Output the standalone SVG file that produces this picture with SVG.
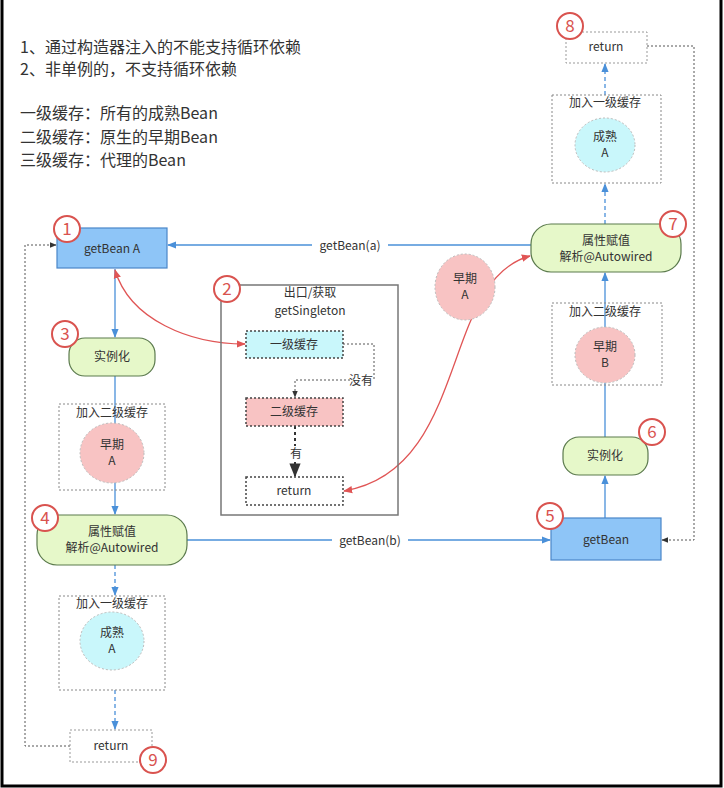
<svg xmlns="http://www.w3.org/2000/svg" width="724" height="788" viewBox="0 0 724 788">
<defs>
<style>
text{font-family:"Noto Sans CJK SC","Liberation Sans",sans-serif;fill:#333;}
.t{font-size:12px;text-anchor:middle;}
.n{font-size:17px;text-anchor:middle;fill:#d9534f;}
.num{fill:#fff;stroke:#d9534f;stroke-width:2;}
.blue{fill:#8ec5f7;stroke:#4a86c8;stroke-width:1.2;}
.green{fill:#e6f8c9;stroke:#5b7a4d;stroke-width:1.2;}
.box{fill:none;stroke:#888;stroke-width:1;stroke-dasharray:2,2;}
.bl{stroke:#4a90d9;stroke-width:1.3;fill:none;}
.rd{stroke:#e05555;stroke-width:1.3;fill:none;}
.dk{stroke:#555;stroke-width:1;fill:none;stroke-dasharray:2,2;}
</style>
<marker id="ab" viewBox="0 0 10 10" refX="9" refY="5" markerWidth="7" markerHeight="7" orient="auto-start-reverse"><path d="M0,1L10,5L0,9z" fill="#4a90d9"/></marker>
<marker id="ar" viewBox="0 0 10 10" refX="9" refY="5" markerWidth="7" markerHeight="7" orient="auto-start-reverse"><path d="M0,1L10,5L0,9z" fill="#e05555"/></marker>
<marker id="ak" viewBox="0 0 10 10" refX="9" refY="5" markerWidth="7" markerHeight="7" orient="auto"><path d="M0,1L10,5L0,9z" fill="#333"/></marker>
</defs>
<rect width="724" height="788" fill="#fff"/>
<path d="M2,0V786H721V0" fill="none" stroke="#000" stroke-width="3"/>
<g id="notes" font-size="16">
<text x="20" y="53">1、通过构造器注入的不能支持循环依赖</text>
<text x="20" y="75">2、非单例的，不支持循环依赖</text>
<text x="20" y="119">一级缓存：所有的成熟Bean</text>
<text x="20" y="143">二级缓存：原生的早期Bean</text>
<text x="20" y="166">三级缓存：代理的Bean</text>
</g>
<g id="connectors">
<path class="bl" d="M531,245H168" marker-end="url(#ab)"/>
<rect x="312" y="238" width="76" height="14" fill="#fff"/>
<text x="350" y="250" class="t">getBean(a)</text>
<path class="bl" d="M187,540H550" marker-end="url(#ab)"/>
<rect x="332" y="533" width="76" height="14" fill="#fff"/>
<text x="370" y="545" class="t">getBean(b)</text>
<path class="bl" d="M115,269V337" marker-end="url(#ab)"/>
<path class="bl" d="M115,376V514" marker-end="url(#ab)"/>
<path class="bl" d="M115,565V595" stroke-dasharray="4,3" marker-end="url(#ab)"/>
<path class="bl" d="M115,690V729" stroke-dasharray="4,3" marker-end="url(#ab)"/>
<path class="bl" d="M605,518V476" marker-end="url(#ab)"/>
<path class="bl" d="M605,437V273" marker-end="url(#ab)"/>
<path class="bl" d="M605,224V184" stroke-dasharray="4,3" marker-end="url(#ab)"/>
<path class="bl" d="M605,95V64" stroke-dasharray="4,3" marker-end="url(#ab)"/>
<path class="dk" d="M70,746H25V245H56" marker-end="url(#ak)"/>
<path class="dk" d="M647,46H694V540H662" marker-end="url(#ak)"/>
<path class="rd" d="M115,270C130,320 190,344 245,344" marker-start="url(#ar)" marker-end="url(#ar)"/>
<path class="rd" d="M344,491C470,470 440,280 530,256" marker-start="url(#ar)" marker-end="url(#ar)"/>
<path class="dk" d="M343,344H374V380"/>
<path class="dk" d="M350,380H295V397" marker-end="url(#ak)"/>
<text x="361" y="385" class="t">没有</text>
<path d="M295,426V476" stroke="#333" stroke-width="2" stroke-dasharray="3,3" marker-end="url(#ak)"/>
<rect x="287" y="446" width="18" height="15" fill="#fff"/>
<text x="296" y="458" class="t">有</text>
</g>
<g id="getSingleton">
<rect x="221" y="285" width="177" height="230" fill="none" stroke="#777" stroke-width="1.5"/>
<text x="310" y="297" class="t" font-size="11">出口/获取</text>
<text x="310" y="315" class="t" font-size="11">getSingleton</text>
<rect x="246" y="331" width="97" height="27" fill="#c9f7fb" stroke="#444" stroke-width="1.5" stroke-dasharray="2,2"/>
<text x="294" y="349" class="t">一级缓存</text>
<rect x="246" y="398" width="97" height="28" fill="#f8c3c3" stroke="#444" stroke-width="1.5" stroke-dasharray="2,2"/>
<text x="294" y="416" class="t">二级缓存</text>
<rect x="246" y="477" width="97" height="28" fill="#fff" stroke="#444" stroke-width="1.5" stroke-dasharray="2,2"/>
<text x="294" y="495" class="t">return</text>
<circle cx="227" cy="289" r="13" class="num"/><text x="227" y="295" class="n">2</text>
</g>
<g id="n1"><rect x="57" y="228" width="110" height="40" class="blue"/><text x="112" y="253" class="t">getBean A</text>
<circle cx="67" cy="229" r="13" class="num"/><text x="67" y="235" class="n">1</text></g>
<g id="n3"><rect x="69" y="338" width="86" height="38" rx="16" class="green"/><text x="112" y="361" class="t">实例化</text>
<circle cx="65" cy="334" r="13" class="num"/><text x="65" y="340" class="n">3</text></g>
<g id="l2cacheA"><rect x="59" y="404" width="106" height="86" class="box"/><text x="112" y="417" class="t">加入二级缓存</text>
<ellipse cx="112" cy="453" rx="32" ry="30" fill="#f8c3c3" stroke="#bbb" stroke-dasharray="2,2"/><text x="112" y="449" class="t">早期</text><text x="112" y="465" class="t">A</text></g>
<g id="n4"><rect x="37" y="515" width="150" height="50" rx="20" class="green"/><text x="112" y="536" class="t">属性赋值</text><text x="112" y="552" class="t">解析@Autowired</text>
<circle cx="45" cy="518" r="13" class="num"/><text x="45" y="524" class="n">4</text></g>
<g id="l1cacheA"><rect x="59" y="596" width="106" height="94" class="box"/><text x="112" y="608" class="t">加入一级缓存</text>
<ellipse cx="112" cy="641" rx="32" ry="29" fill="#c9f7fb" stroke="#bbb" stroke-dasharray="2,2"/><text x="112" y="637" class="t">成熟</text><text x="112" y="653" class="t">A</text></g>
<g id="n9"><rect x="70" y="730" width="82" height="32" fill="#fff" stroke="#999" stroke-dasharray="2,2"/><text x="111" y="750" class="t">return</text>
<circle cx="153" cy="760" r="13" class="num"/><text x="153" y="766" class="n">9</text></g>
<g id="earlyA"><ellipse cx="465" cy="287" rx="30" ry="33" fill="#f8c3c3" stroke="#bbb" stroke-dasharray="2,2"/><text x="465" y="283" class="t">早期</text><text x="465" y="299" class="t">A</text></g>
<g id="n5"><rect x="551" y="518" width="110" height="42" class="blue"/><text x="606" y="544" class="t">getBean</text>
<circle cx="550" cy="516" r="13" class="num"/><text x="550" y="522" class="n">5</text></g>
<g id="n6"><rect x="563" y="437" width="85" height="38" rx="16" class="green"/><text x="605" y="460" class="t">实例化</text>
<circle cx="652" cy="432" r="13" class="num"/><text x="652" y="438" class="n">6</text></g>
<g id="l2cacheB"><rect x="552" y="303" width="110" height="82" class="box"/><text x="605" y="316" class="t">加入二级缓存</text>
<ellipse cx="605" cy="355" rx="30" ry="28" fill="#f8c3c3" stroke="#bbb" stroke-dasharray="2,2"/><text x="605" y="351" class="t">早期</text><text x="605" y="367" class="t">B</text></g>
<g id="n7"><rect x="531" y="224" width="150" height="48" rx="20" class="green"/><text x="606" y="245" class="t">属性赋值</text><text x="606" y="261" class="t">解析@Autowired</text>
<circle cx="673" cy="224" r="13" class="num"/><text x="673" y="230" class="n">7</text></g>
<g id="l1cacheB"><rect x="552" y="95" width="109" height="88" class="box"/><text x="605" y="107" class="t">加入一级缓存</text>
<ellipse cx="605" cy="145" rx="30" ry="27" fill="#c9f7fb" stroke="#bbb" stroke-dasharray="2,2"/><text x="605" y="141" class="t">成熟</text><text x="605" y="157" class="t">A</text></g>
<g id="n8"><rect x="566" y="32" width="81" height="31" fill="#fff" stroke="#999" stroke-dasharray="2,2"/><text x="606" y="51" class="t">return</text>
<circle cx="570" cy="26" r="13" class="num"/><text x="570" y="32" class="n">8</text></g>
</svg>
